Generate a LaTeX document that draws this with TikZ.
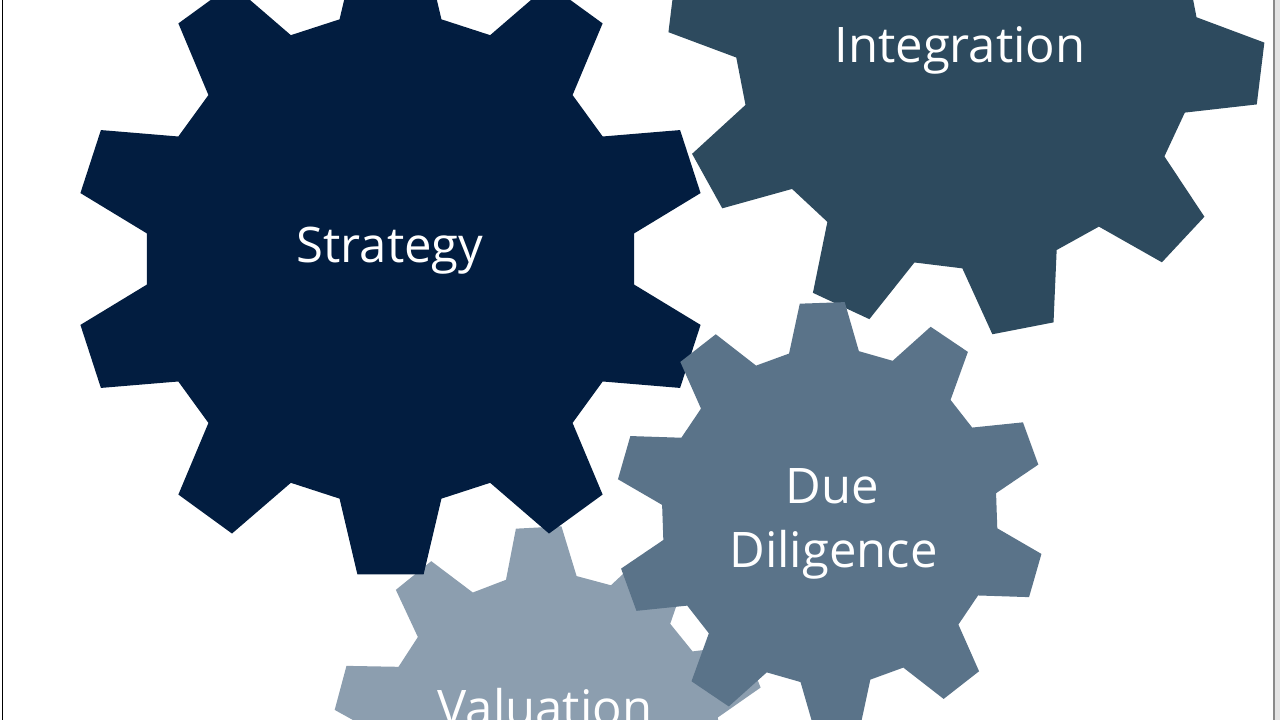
\documentclass[tikz,border=0pt]{standalone}
\usepackage{fontspec}
\setmainfont{Open Sans}
\definecolor{cStrat}{HTML}{021D40}
\definecolor{cInteg}{HTML}{2D4A5E}
\definecolor{cDue}{HTML}{5A7389}
\definecolor{cVal}{HTML}{8C9EAF}
\definecolor{cEdge}{HTML}{8A8A8A}
\definecolor{cEdgeLight}{HTML}{E4E4E4}
% #1 cx, #2 cy, #3 tip radius, #4 root radius, #5 angle of first tooth, #6 colour
\newcommand{\mygear}[6]{%
  \begin{scope}[shift={(#1,#2)}]
    \fill[#6] ({#5-12}:#4)
      \foreach \k in {0,...,9}{
        -- ({#5+36*\k-12}:#4) -- ({#5+36*\k-6}:#3)
        -- ({#5+36*\k+6}:#3) -- ({#5+36*\k+12}:#4)
      } -- cycle;
  \end{scope}}
\tikzset{
  lbl/.style={text=white, font=\fontsize{49}{60}\selectfont, anchor=base, inner sep=0pt},
}
\begin{document}
\begin{tikzpicture}[x=1pt,y=1pt]
  \useasboundingbox (0,0) rectangle (1280,720);
  \fill[white] (0,0) rectangle (1280,720);
  \begin{scope}
    \clip (0,0) rectangle (1280,720);
    % Valuation (behind)
    \mygear{550}{-24}{218}{170}{21}{cVal}
    % Strategy
    \mygear{390.5}{461}{317}{245}{18}{cStrat}
    % Integration
    \mygear{966.4}{682.6}{298}{231}{29}{cInteg}
    % Due Diligence
    \mygear{829.7}{203.4}{215}{168}{20}{cDue}
    % labels
    \node[lbl] (strategy) at (390,457) {Strategy};
    \node[lbl] (integration) at (960,657.5) {Integration};
    \node[lbl] (due) at (832.5,216) {Due};
    \node[lbl] (diligence) at (833.5,152) {Diligence};
    \node[lbl] (valuation) at (545,-6) {Valuation};
    % frame edges
    \fill[cEdgeLight] (1275,0) rectangle (1280,720);
    \draw[cEdge, line width=2pt] (1274,0) -- (1274,720);
    \draw[black, line width=1.6pt] (2.6,0) -- (2.6,720);
  \end{scope}
\end{tikzpicture}
\end{document}
